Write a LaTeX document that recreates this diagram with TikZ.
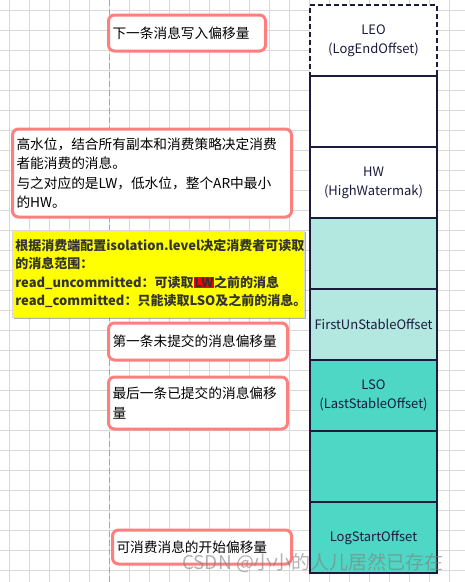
\documentclass[tikz,border=0pt]{standalone}
\usepackage{fontspec}
\setmainfont{Noto Sans CJK SC}
\usetikzlibrary{shadows}
\definecolor{gridc}{HTML}{D9D9D9}
\definecolor{navy}{HTML}{1B1B3F}
\definecolor{lteal}{HTML}{B2E8E0}
\definecolor{dteal}{HTML}{4ED7C4}
\definecolor{salmon}{HTML}{FF7F7F}
\definecolor{noteyellow}{HTML}{FFFF00}
\definecolor{notetext}{HTML}{333333}
\begin{document}
\begin{tikzpicture}[x=1pt,y=-1pt,
  cell/.style={draw=navy, line width=1.2pt, minimum width=127pt, minimum height=71pt,
    inner sep=0pt, align=center, text=navy, font=\fontsize{13}{19}\selectfont},
  callout/.style={draw=salmon, line width=3pt, rounded corners=6pt, fill=white,
    align=left, inner xsep=4pt, inner ysep=0pt, anchor=west,
    font=\fontsize{13.7}{19.5}\selectfont},
  note/.style={draw=gray!30, line width=0.6pt, fill=noteyellow, align=left,
    inner xsep=3pt, inner ysep=0pt, anchor=west, text=notetext,
    font=\bfseries\fontsize{13}{18.5}\selectfont,
    drop shadow={shadow xshift=2pt, shadow yshift=-2pt, opacity=0.3, fill=black}},
  wmark/.style={text=gray, opacity=0.6, font=\fontsize{19}{19}\selectfont, inner sep=0pt}
]
\useasboundingbox (0,0) rectangle (465,582);
\fill[white] (0,0) rectangle (465,582);
\foreach \i in {0,...,22} \draw[gridc, line width=0.9pt] ({9.3+20*\i},0) -- ++(0,582);
\foreach \i in {0,...,28} \draw[gridc, line width=0.9pt] (0,{10+20*\i}) -- ++(465,0);
\draw[gray!70, line width=0.8pt, dash pattern=on 6pt off 3pt] (109.3,0) -- (109.3,582);

% column
\node[cell, fill=white, dash pattern=on 5pt off 3pt] (leo) at (373.5,40.5) {LEO\\(LogEndOffset)};
\node[cell, fill=white] (e1) at (373.5,111.5) {};
\node[cell, fill=white] (hw) at (373.5,182.5) {HW\\(HighWatermak)};
\node[cell, fill=lteal] (f1) at (373.5,253.5) {};
\node[cell, fill=lteal] (fus) at (373.5,324.5) {FirstUnStableOffset};
\node[cell, fill=dteal] (lso) at (373.5,395.5) {LSO\\(LastStableOffset)};
\node[cell, fill=dteal] (e2) at (373.5,466.5) {};
\node[cell, fill=dteal] (lstart) at (373.5,537.5) {LogStartOffset};

% callouts
\node[callout, text width=149pt, minimum height=36pt] (c1) at (107,33) {下一条消息写入偏移量};
\node[callout, text width=271pt, minimum height=88pt] (c2) at (11,173)
  {高水位，结合所有副本和消费策略决定消费\\者能消费的消息。\\与之对应的是LW，低水位，整个AR中最小\\的HW。};
\node[note, text width=286pt, minimum height=87pt] (n1) at (12,273.5)
  {根据消费端配置isolation.level决定消费者可读取\\的消息范围：\\read\_uncommitted：可读取{\setlength{\fboxsep}{0.8pt}\colorbox{red}{LW}}之前的消息\\read\_committed：只能读取LSO及之前的消息。};
\node[callout, text width=171pt, minimum height=37pt] (c4) at (107,341.5) {第一条未提交的消息偏移量};
\node[callout, text width=171pt, minimum height=52pt] (c5) at (107,403) {最后一条已提交的消息偏移\\量};
\node[callout, text width=171pt, minimum height=34pt] (c6) at (111,547) {可消费消息的开始偏移量};

\node[wmark] (wm) at (313,563) {CSDN @小小的人儿居然已存在};
\end{tikzpicture}
\end{document}
